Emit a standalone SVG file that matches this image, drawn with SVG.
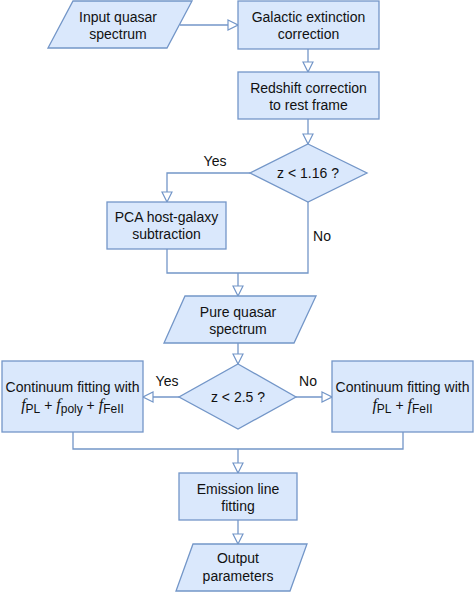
<svg xmlns="http://www.w3.org/2000/svg" width="474" height="595" viewBox="0 0 474 595">
<defs>
<style>
.n{fill:#dae8fc;stroke:#7396c8;stroke-width:1.3}
.c{fill:none;stroke:#7396c8;stroke-width:1.3}
text{font-family:"Liberation Sans",Arial,sans-serif;font-size:14px;fill:#111;text-anchor:middle}
.f{font-family:"Liberation Serif","Times New Roman",serif;font-style:italic;font-size:16px}
.s{font-size:12px}
</style>
<marker id="a" markerUnits="userSpaceOnUse" markerWidth="12" markerHeight="12" refX="10" refY="5" orient="auto" viewBox="-1 -1 12 12">
<path d="M0,0 L10,5 L0,10 Z" fill="#fff" stroke="#7396c8" stroke-width="1.2"/>
</marker>
</defs>
<rect width="474" height="595" fill="#fff"/>
<g id="connectors">
<path class="c" d="M180,25 H238" marker-end="url(#a)"/>
<path class="c" d="M308,49 V72" marker-end="url(#a)"/>
<path class="c" d="M308,119 V144" marker-end="url(#a)"/>
<path class="c" d="M250,173 H167 V202" marker-end="url(#a)"/>
<path class="c" d="M167,249 V273 H308 V202"/>
<path class="c" d="M238,273 V296" marker-end="url(#a)"/>
<path class="c" d="M238,343 V364" marker-end="url(#a)"/>
<path class="c" d="M179,397 H143" marker-end="url(#a)"/>
<path class="c" d="M296,397 H332" marker-end="url(#a)"/>
<path class="c" d="M73,432 V449 H403 V432"/>
<path class="c" d="M238,449 V473" marker-end="url(#a)"/>
<path class="c" d="M238,520 V544" marker-end="url(#a)"/>
<text x="215" y="166">Yes</text>
<text x="322" y="241">No</text>
<text x="167" y="386">Yes</text>
<text x="308" y="386">No</text>
</g>
<g id="input">
<polygon class="n" points="73,1 192,1 167,48 48,48"/>
<text x="118" y="22">Input quasar</text>
<text x="118" y="39">spectrum</text>
</g>
<g id="galactic">
<rect class="n" x="238" y="1" width="141" height="48"/>
<text x="308.5" y="22">Galactic extinction</text>
<text x="308.5" y="39">correction</text>
</g>
<g id="redshift">
<rect class="n" x="238" y="72" width="141" height="47"/>
<text x="308.5" y="93">Redshift correction</text>
<text x="308.5" y="110">to rest frame</text>
</g>
<g id="dec1">
<polygon class="n" points="308,144 367,173 308,202 250,173"/>
<text x="308" y="178">z &lt; 1.16 ?</text>
</g>
<g id="pca">
<rect class="n" x="107" y="202" width="119" height="47"/>
<text x="166.5" y="222">PCA host-galaxy</text>
<text x="166.5" y="239">subtraction</text>
</g>
<g id="pure">
<polygon class="n" points="185,296 316,296 294,343 164,343"/>
<text x="238" y="317">Pure quasar</text>
<text x="238" y="334">spectrum</text>
</g>
<g id="dec2">
<polygon class="n" points="238,364 296,397 238,429 179,397"/>
<text x="238" y="402">z &lt; 2.5 ?</text>
</g>
<g id="contleft">
<rect class="n" x="2" y="361" width="141" height="71"/>
<text x="72.5" y="392">Continuum fitting with</text>
<text x="72.5" y="410"><tspan class="f">f</tspan><tspan class="s" dy="3">PL</tspan><tspan dy="-3"> + </tspan><tspan class="f">f</tspan><tspan class="s" dy="3">poly</tspan><tspan dy="-3"> + </tspan><tspan class="f">f</tspan><tspan class="s" dy="3">FeII</tspan></text>
</g>
<g id="contright">
<rect class="n" x="332" y="361" width="141" height="71"/>
<text x="402.5" y="392">Continuum fitting with</text>
<text x="402.5" y="410"><tspan class="f">f</tspan><tspan class="s" dy="3">PL</tspan><tspan dy="-3"> + </tspan><tspan class="f">f</tspan><tspan class="s" dy="3">FeII</tspan></text>
</g>
<g id="emission">
<rect class="n" x="179" y="473" width="118" height="47"/>
<text x="238" y="494">Emission line</text>
<text x="238" y="511">fitting</text>
</g>
<g id="output">
<polygon class="n" points="193,544 307,544 290,591 176,591"/>
<text x="238" y="563">Output</text>
<text x="238" y="581">parameters</text>
</g>
</svg>
